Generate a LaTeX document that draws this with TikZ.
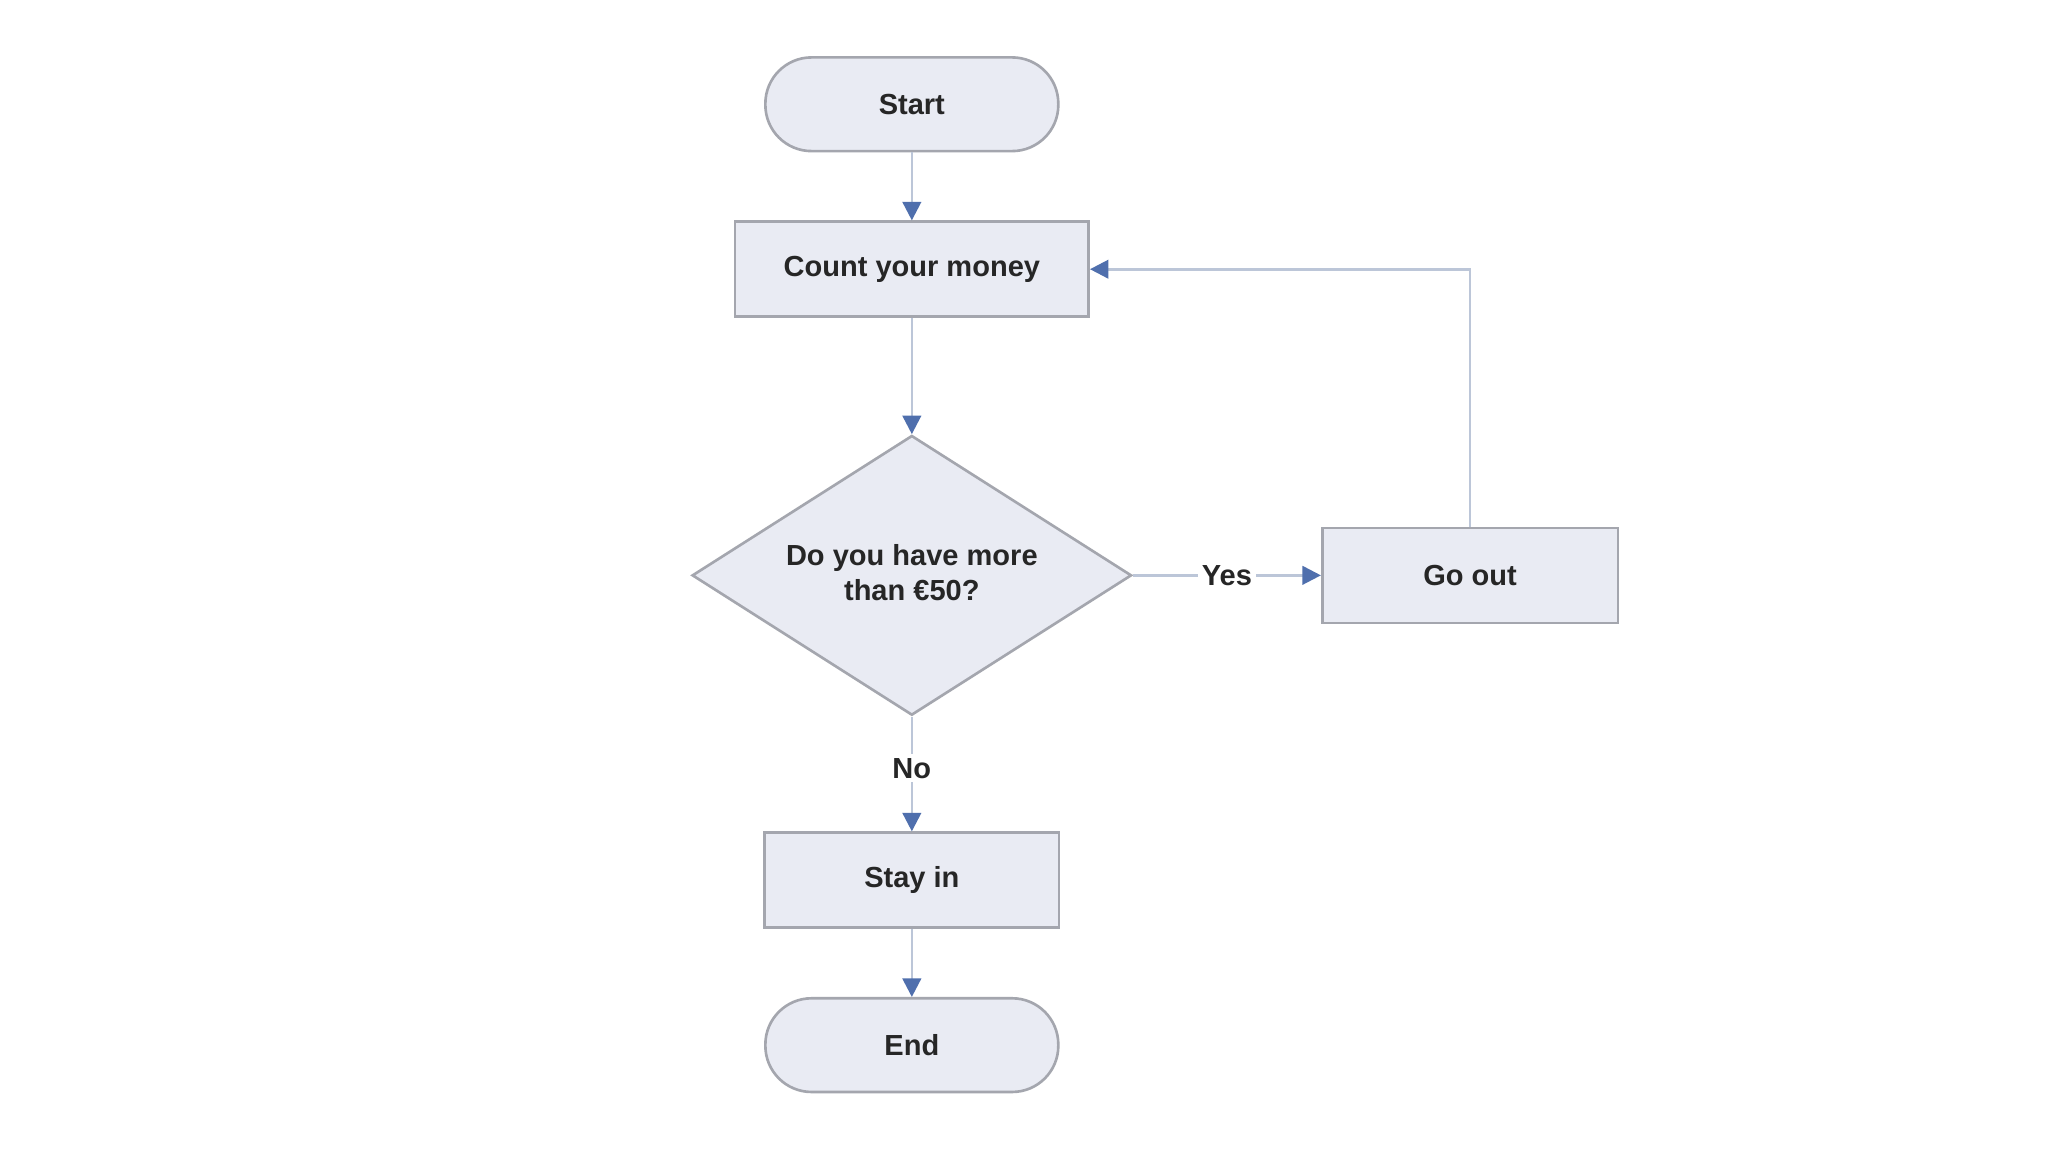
\documentclass[tikz,border=0pt]{standalone}
\usepackage{fontspec}
\setmainfont{Liberation Sans}
\usetikzlibrary{shapes.geometric,arrows.meta}
\definecolor{boxfill}{HTML}{E9EBF3}
\definecolor{boxline}{HTML}{A4A6AE}
\definecolor{conn}{HTML}{BCC6D8}
\definecolor{tip}{HTML}{4F6FAD}
\tikzset{
  base/.style={draw=boxline,fill=boxfill,line width=2pt,font=\fontsize{22}{27}\selectfont\bfseries,text=black!85,align=center,inner sep=0pt},
  term/.style={base,rounded corners=35pt,minimum width=222pt,minimum height=71pt},
  proc/.style={base,minimum height=72pt},
  dec/.style={base,diamond,minimum width=333pt,minimum height=212pt},
  conn/.style={draw=conn,line width=2pt,-{Triangle[length=14pt,width=14pt,color=tip]}},
  lbl/.style={font=\fontsize{22}{27}\selectfont\bfseries,text=black!85,fill=white,inner sep=3pt}
}
\begin{document}
\begin{tikzpicture}[x=1pt,y=-1pt]
\useasboundingbox[fill=white] (0,0) rectangle (1552,873);
\node[term] (start) at (691,79) {Start};
\node[proc,minimum width=268pt] (count) at (691,204) {Count your money};
\node[dec] (q) at (691,436) {};
\node[font=\fontsize{22}{27}\selectfont\bfseries,text=black!85,align=center] at (691,434) {Do you have more\\than €50?};
\node[proc,minimum width=224pt] (go) at (1114,436) {Go out};
\node[proc,minimum width=223pt] (stay) at (691,667) {Stay in};
\node[term] (end) at (691,792) {End};
\draw[conn] (start) -- (count);
\draw[conn] (count) -- (q);
\draw[conn] (q) -- node[lbl]{Yes} (go);
\draw[conn] (q) -- node[lbl,pos=0.45]{No} (stay);
\draw[conn] (stay) -- (end);
\draw[conn] (go.north) |- (count.east);
\end{tikzpicture}
\end{document}
